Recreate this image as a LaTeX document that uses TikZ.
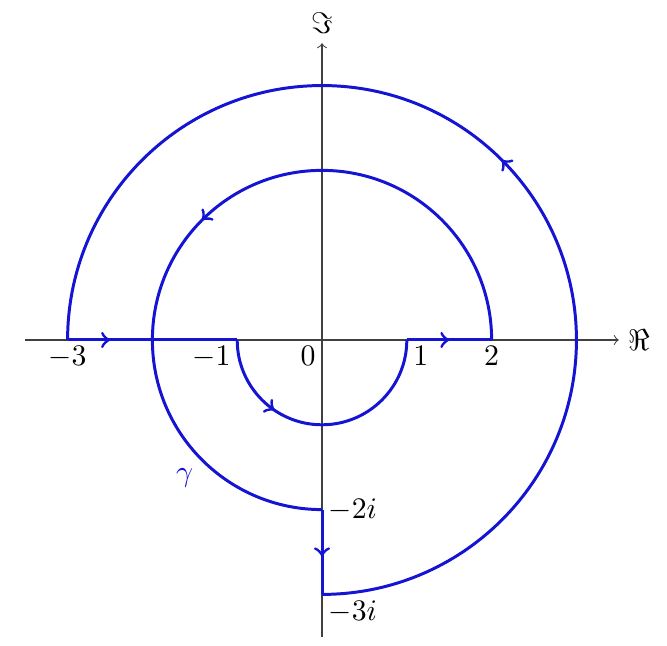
\documentclass[tikz,border=0pt]{standalone}
\usetikzlibrary{decorations.markings}
\definecolor{cblue}{RGB}{20,20,210}
\tikzset{
  contour/.style={cblue, line width=1pt},
  midarrow/.style={postaction={decorate, decoration={markings, mark=at position #1 with {\arrow{>}}}}},
  axis/.style={->, line width=0.35pt, black!75},
  lbl/.style={inner sep=2pt}
}
\begin{document}
\begin{tikzpicture}
\useasboundingbox (-3.797,-3.597) rectangle (4.068,4.009);
% axes
\coordinate (xl) at (-3.5,0);
\coordinate (xr) at (3.5,0);
\coordinate (yb) at (0,-3.5);
\coordinate (yt) at (0,3.5);
\draw[axis] (xl) -- (xr);
\draw[axis] (yb) -- (yt);
\node[right, inner sep=3pt] (re) at (xr) {$\Re$};
\node[above, inner sep=3pt] (im) at (yt) {$\Im$};
% contour points
\coordinate (m3) at (-3,0);
\coordinate (m1) at (-1,0);
\coordinate (p1) at (1,0);
\coordinate (p2) at (2,0);
\coordinate (m2i) at (0,-2);
\coordinate (m3i) at (0,-3);
\draw[contour, midarrow=0.25] (m3) -- (m1);
\draw[contour, midarrow=0.31] (m1) arc[start angle=180, end angle=360, radius=1];
\draw[contour, midarrow=0.5] (p1) -- (p2);
\draw[contour, midarrow=0.5] (p2) arc[start angle=0, end angle=270, radius=2];
\draw[contour, midarrow=0.55] (m2i) -- (m3i);
\draw[contour, midarrow=0.5] (m3i) arc[start angle=-90, end angle=180, radius=3];
% labels
\node[lbl, below] (l3) at (m3) {$-3$};
\node[lbl, below left] (l1) at (m1) {$-1$};
\node[lbl, below left] (l0) at (0,0) {$0$};
\node[lbl, below right] (lp1) at (p1) {$1$};
\node[lbl, below] (lp2) at (p2) {$2$};
\node[lbl, right] (l2i) at (m2i) {$-2i$};
\node[lbl, below right] (l3i) at (m3i) {$-3i$};
\node[cblue] (g) at (-1.62,-1.63) {$\gamma$};
\end{tikzpicture}
\end{document}
